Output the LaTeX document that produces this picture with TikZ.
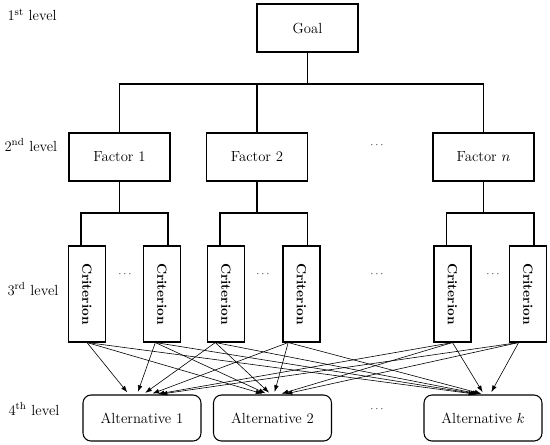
\documentclass[tikz,border=0pt]{standalone}
\usepackage{graphicx}
\usetikzlibrary{arrows.meta}
\begin{document}
\begin{tikzpicture}[x = 0.75pt, y = -0.75pt, line width = 0.8pt,
	box/.style     = {draw, minimum width = 75.75pt, minimum height = 36pt, inner sep = 0pt, font = \fontsize{11}{13}\selectfont},
	critbox/.style = {draw, minimum width = 27.75pt, minimum height = 72pt, inner sep = 0pt},
	altbox/.style  = {draw, rounded corners = 6pt, minimum width = 88.5pt, minimum height = 34.5pt, inner sep = 0pt, font = \fontsize{11}{13}\selectfont},
	lbl/.style     = {anchor = west, inner sep = 0pt, font = \fontsize{11}{13}\selectfont},
	dots/.style    = {font = \scriptsize, inner sep = 0pt},
	arr/.style     = {-{Latex[length = 5pt, width = 3.5pt]}, line width = 0.45pt, shorten > = 2pt}]
	\useasboundingbox (0, 0) rectangle (550, 444);
	\node[lbl] (l1) at (7,   15) {1\textsuperscript{st} level};
	\node[lbl] (l2) at (4,  145) {2\textsuperscript{nd} level};
	\node[lbl] (l3) at (7,  289) {3\textsuperscript{rd} level};
	\node[lbl] (l4) at (8,  409) {4\textsuperscript{th} level};
	\node[box] (goal) at (307.5, 28) {Goal};
	\node[box] (f1) at (119.5, 157) {Factor 1};
	\node[box] (f2) at (257,   157) {Factor 2};
	\node[box] (fn) at (483.5, 157) {Factor $n$};
	\node[dots] (fdots) at (377, 145) {$\cdots$};
	\node[critbox] (c1) at (87,    294) {\rotatebox{-90}{\bfseries Criterion}};
	\node[critbox] (c2) at (162,   294) {\rotatebox{-90}{\bfseries Criterion}};
	\node[critbox] (c3) at (226,   294) {\rotatebox{-90}{\bfseries Criterion}};
	\node[critbox] (c4) at (301.5, 294) {\rotatebox{-90}{\bfseries Criterion}};
	\node[critbox] (c5) at (452.5, 294) {\rotatebox{-90}{\bfseries Criterion}};
	\node[critbox] (c6) at (528,   294) {\rotatebox{-90}{\bfseries Criterion}};
	\node[dots] (cdots1) at (125, 274) {$\cdots$};
	\node[dots] (cdots2) at (263, 274) {$\cdots$};
	\node[dots] (cdots3) at (377, 274) {$\cdots$};
	\node[dots] (cdots4) at (493, 274) {$\cdots$};
	\node[altbox] (a1) at (142,   418) {Alternative 1};
	\node[altbox] (a2) at (272.5, 418) {Alternative 2};
	\node[altbox] (ak) at (483,   418) {Alternative $k$};
	\node[dots] (adots) at (377, 409) {$\cdots$};
	\coordinate (fbus) at (0, 84);
	\coordinate (cbus) at (0, 213);
	\draw (goal.south) -- (goal.south |- fbus);
	\draw (f1.north) |- (fn.north |- fbus) -- (fn.north);
	\draw (f2.north) -- (f2.north |- fbus);
	\draw (f1.south) -- (f1.south |- cbus);
	\draw (f2.south) -- (f2.south |- cbus);
	\draw (fn.south) -- (fn.south |- cbus);
	\draw ([xshift = -4.5pt]c1.north) |- ([xshift = 4.5pt]c2.north |- cbus) -- ([xshift = 4.5pt]c2.north);
	\draw ([xshift = -4.5pt]c3.north) |- ([xshift = 4.5pt]c4.north |- cbus) -- ([xshift = 4.5pt]c4.north);
	\draw ([xshift = -4.5pt]c5.north) |- ([xshift = 4.5pt]c6.north |- cbus) -- ([xshift = 4.5pt]c6.north);
	\draw[arr] (c1.south)                  -- ([xshift = -9.75pt]a1.north);
	\draw[arr] ([xshift = -5pt]c2.south)   -- ([xshift = -3.75pt]a1.north);
	\draw[arr] ([xshift = -8pt]c3.south)   -- ([xshift = 0.75pt]a1.north);
	\draw[arr] ([xshift = -10pt]c4.south)  -- ([xshift = 6pt]a1.north);
	\draw[arr] (c5.south)                  -- ([xshift = 9.75pt]a1.north);
	\draw[arr] ([xshift = -7pt]c6.south)   -- ([xshift = 12pt]a1.north);
	\draw[arr] (c1.south)                  -- ([xshift = -5.6pt]a2.north);
	\draw[arr] ([xshift = -5pt]c2.south)   -- ([xshift = -3.4pt]a2.north);
	\draw[arr] ([xshift = -8pt]c3.south)   -- ([xshift = -1.1pt]a2.north);
	\draw[arr] ([xshift = -10pt]c4.south)  -- ([xshift = 1.1pt]a2.north);
	\draw[arr] (c5.south)                  -- ([xshift = 4.9pt]a2.north);
	\draw[arr] ([xshift = -7pt]c6.south)   -- ([xshift = 7.9pt]a2.north);
	\draw[arr] (c1.south)                  -- ([xshift = -3.75pt]ak.north);
	\draw[arr] ([xshift = -5pt]c2.south)   -- ([xshift = -2.25pt]ak.north);
	\draw[arr] ([xshift = -8pt]c3.south)   -- ([xshift = -0.75pt]ak.north);
	\draw[arr] ([xshift = -10pt]c4.south)  -- ([xshift = 0.75pt]ak.north);
	\draw[arr] (c5.south)                  -- ([xshift = 0.75pt]ak.north);
	\draw[arr] ([xshift = -7pt]c6.south)   -- ([xshift = 5.25pt]ak.north);
\end{tikzpicture}
\end{document}
